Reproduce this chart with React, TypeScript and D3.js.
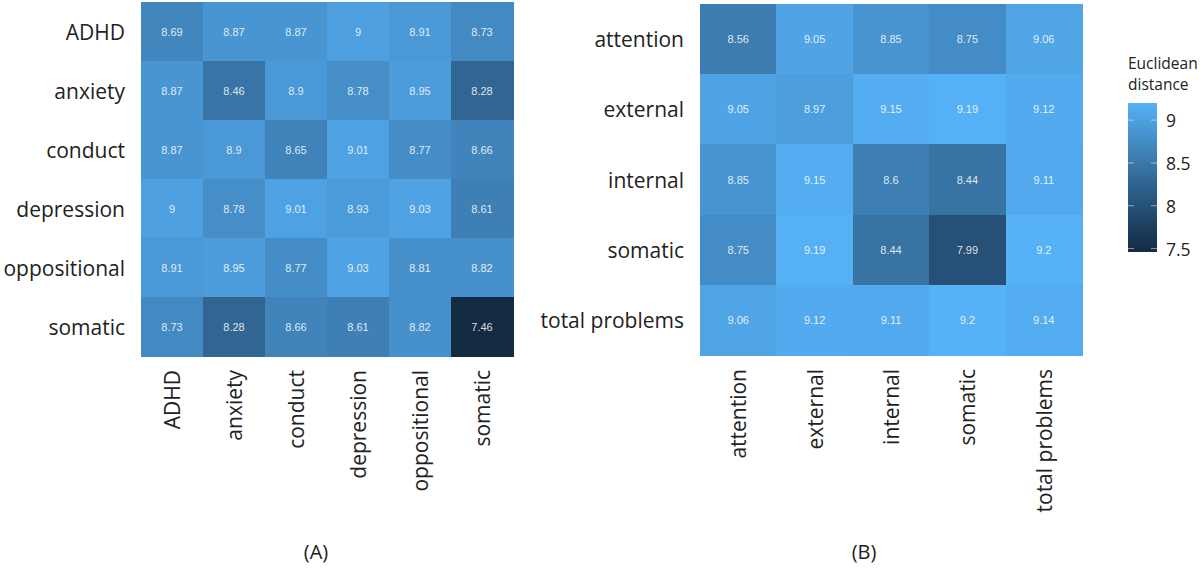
import * as React from 'react';
import * as d3 from 'd3';

// panel A: disorder categories
const catsA = ['ADHD', 'anxiety', 'conduct', 'depression', 'oppositional', 'somatic'];
const valuesA = [
  [8.69, 8.87, 8.87, 9, 8.91, 8.73],
  [8.87, 8.46, 8.9, 8.78, 8.95, 8.28],
  [8.87, 8.9, 8.65, 9.01, 8.77, 8.66],
  [9, 8.78, 9.01, 8.93, 9.03, 8.61],
  [8.91, 8.95, 8.77, 9.03, 8.81, 8.82],
  [8.73, 8.28, 8.66, 8.61, 8.82, 7.46],
];

// panel B: problem scales
const catsB = ['attention', 'external', 'internal', 'somatic', 'total problems'];
const valuesB = [
  [8.56, 9.05, 8.85, 8.75, 9.06],
  [9.05, 8.97, 9.15, 9.19, 9.12],
  [8.85, 9.15, 8.6, 8.44, 9.11],
  [8.75, 9.19, 8.44, 7.99, 9.2],
  [9.06, 9.12, 9.11, 9.2, 9.14],
];

const legendTicks = [9, 8.5, 8, 7.5];
const legendTitle = ['Euclidean', 'distance'];
const panelLabels = ['(A)', '(B)'];

const W = 1200;
const H = 570;
const FONT = "'Open Sans', 'Noto Sans', sans-serif";
const AXIS_SIZE = 21;

const allValues = valuesA.flat().concat(valuesB.flat());
const domain = d3.extent(allValues) as [number, number];
const colour = d3.scaleLinear<string>()
  .domain(domain)
  .range(['#132B43', '#56B1F7'])
  .interpolate(d3.interpolateLab);

function Heatmap(props: { cats: string[]; values: number[][]; x0: number; x1: number; y0: number; y1: number }) {
  const { cats, values, x0, x1, y0, y1 } = props;
  const x = d3.scaleBand().domain(cats).range([x0, x1]);
  const y = d3.scaleBand().domain(cats).range([y0, y1]);
  return (
    <g>
      {values.map((row, i) =>
        row.map((v, j) => (
          <g key={i + '-' + j}>
            <rect
              x={x(cats[j])}
              y={y(cats[i])}
              width={x.bandwidth() + 0.5}
              height={y.bandwidth() + 0.5}
              fill={colour(v)}
              shapeRendering="crispEdges"
            />
            <text
              x={x(cats[j])! + x.bandwidth() / 2}
              y={y(cats[i])! + y.bandwidth() / 2}
              textAnchor="middle"
              dominantBaseline="central"
              fontFamily="'Liberation Sans', Arial, sans-serif"
              fontSize={11}
              fill="#ffffff"
              fillOpacity={0.85}
            >
              {String(v)}
            </text>
          </g>
        ))
      )}
      {cats.map(c => (
        <text
          key={'y' + c}
          x={x0 - 16}
          y={y(c)! + y.bandwidth() / 2}
          textAnchor="end"
          dominantBaseline="central"
          fontFamily={FONT}
          fontSize={AXIS_SIZE}
          fill="#222"
        >
          {c}
        </text>
      ))}
      {cats.map(c => {
        const cx = x(c)! + x.bandwidth() / 2;
        const ty = y1 + 14;
        return (
          <text
            key={'x' + c}
            transform={`translate(${cx},${ty}) rotate(-90)`}
            textAnchor="end"
            dominantBaseline="central"
            fontFamily={FONT}
            fontSize={AXIS_SIZE}
            fill="#222"
          >
            {c}
          </text>
        );
      })}
    </g>
  );
}

function Legend() {
  const bx = 1128;
  const bw = 29;
  const top = 103;
  const bottom = 252;
  const ly = d3.scaleLinear().domain(domain).range([bottom, top]);
  const stops = d3.range(0, 1.0001, 0.1);
  return (
    <g>
      <defs>
        <linearGradient id="legGrad" x1="0" y1="1" x2="0" y2="0">
          {stops.map(t => (
            <stop key={t} offset={t} stopColor={colour(domain[0] + t * (domain[1] - domain[0]))} />
          ))}
        </linearGradient>
      </defs>
      {legendTitle.map((t, i) => (
        <text key={t} x={bx} y={63 + i * 21} dominantBaseline="central" fontFamily={FONT} fontSize={15.5} fill="#222">
          {t}
        </text>
      ))}
      <rect x={bx} y={top} width={bw} height={bottom - top} fill="url(#legGrad)" />
      {legendTicks.map(t => (
        <g key={t}>
          {t > domain[0] && (
            <>
              <line x1={bx} x2={bx + 6} y1={ly(t)} y2={ly(t)} stroke="#fff" strokeOpacity={0.5} />
              <line x1={bx + bw - 6} x2={bx + bw} y1={ly(t)} y2={ly(t)} stroke="#fff" strokeOpacity={0.5} />
            </>
          )}
          <text
            x={bx + bw + 9}
            y={ly(t)}
            dominantBaseline="central"
            fontFamily={FONT}
            fontSize={17.5}
            fill="#222"
          >
            {String(t)}
          </text>
        </g>
      ))}
    </g>
  );
}

export default function App() {
  return (
    <div style={{ position: 'absolute', left: 0, top: 0, background: '#fff' }}>
      <svg width={W} height={H} viewBox={`0 0 ${W} ${H}`}>
        <rect width={W} height={H} fill="#fff" />
        <Heatmap cats={catsA} values={valuesA} x0={141} x1={513} y0={2} y1={356} />
        <Heatmap cats={catsB} values={valuesB} x0={700} x1={1082} y0={4} y1={355} />
        <Legend />
        {panelLabels.map((p, i) => (
          <text
            key={p}
            x={i === 0 ? 316 : 864}
            y={551}
            textAnchor="middle"
            dominantBaseline="central"
            fontFamily={FONT}
            fontSize={20}
            fill="#222"
          >
            {p}
          </text>
        ))}
      </svg>
    </div>
  );
}
